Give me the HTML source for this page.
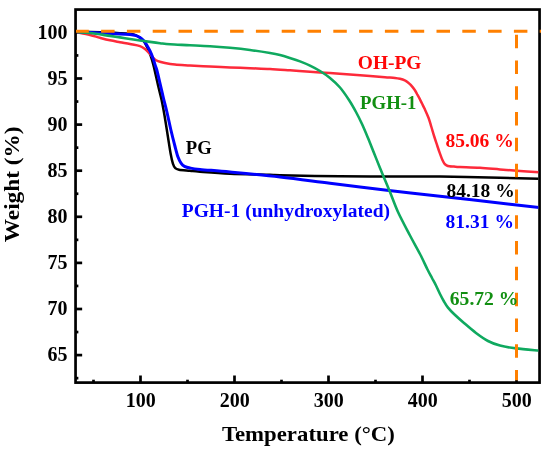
<!DOCTYPE html>
<html><head><meta charset="utf-8"><title>TGA curves</title>
<style>
html,body{margin:0;padding:0;background:#fff;}
svg{display:block;font-family:"Liberation Serif",serif;font-weight:bold;}
.tk text{font-size:20px;fill:#000;}
.ann text{font-size:18.6px;}
</style></head>
<body>
<svg width="550" height="455" viewBox="0 0 550 455">
<rect width="550" height="455" fill="#fff"/>
<g stroke="#000" stroke-width="2.7" fill="none">
<rect x="75.55" y="9.55" width="463.99999999999994" height="373.05"/>
<line x1="75.55" y1="32.40" x2="82.15" y2="32.40"/><line x1="75.55" y1="78.50" x2="82.15" y2="78.50"/><line x1="75.55" y1="124.60" x2="82.15" y2="124.60"/><line x1="75.55" y1="170.70" x2="82.15" y2="170.70"/><line x1="75.55" y1="216.80" x2="82.15" y2="216.80"/><line x1="75.55" y1="262.90" x2="82.15" y2="262.90"/><line x1="75.55" y1="309.00" x2="82.15" y2="309.00"/><line x1="75.55" y1="355.10" x2="82.15" y2="355.10"/><line x1="75.55" y1="55.45" x2="78.35" y2="55.45"/><line x1="75.55" y1="101.55" x2="78.35" y2="101.55"/><line x1="75.55" y1="147.65" x2="78.35" y2="147.65"/><line x1="75.55" y1="193.75" x2="78.35" y2="193.75"/><line x1="75.55" y1="239.85" x2="78.35" y2="239.85"/><line x1="75.55" y1="285.95" x2="78.35" y2="285.95"/><line x1="75.55" y1="332.05" x2="78.35" y2="332.05"/><line x1="75.55" y1="378.15" x2="78.35" y2="378.15"/><line x1="140.50" y1="382.60" x2="140.50" y2="375.50"/><line x1="234.50" y1="382.60" x2="234.50" y2="375.50"/><line x1="328.50" y1="382.60" x2="328.50" y2="375.50"/><line x1="422.50" y1="382.60" x2="422.50" y2="375.50"/><line x1="516.50" y1="382.60" x2="516.50" y2="375.50"/><line x1="93.50" y1="382.60" x2="93.50" y2="379.70"/><line x1="187.50" y1="382.60" x2="187.50" y2="379.70"/><line x1="281.50" y1="382.60" x2="281.50" y2="379.70"/><line x1="375.50" y1="382.60" x2="375.50" y2="379.70"/><line x1="469.50" y1="382.60" x2="469.50" y2="379.70"/>
</g>
<clipPath id="pa"><rect x="76.8" y="11" width="461.5" height="370.4"/></clipPath>
<g fill="none" stroke-linejoin="round" stroke-linecap="butt" clip-path="url(#pa)">
<path d="M76.50 31.70 C80.42 31.80 92.75 32.05 100.00 32.30 C107.25 32.55 115.17 32.95 120.00 33.20 C124.83 33.45 126.50 33.52 129.00 33.80 C131.50 34.08 133.33 34.35 135.00 34.90 C136.67 35.45 137.58 36.08 139.00 37.10 C140.42 38.12 142.25 39.52 143.50 41.00 C144.75 42.48 145.50 44.08 146.50 46.00 C147.50 47.92 148.58 50.17 149.50 52.50 C150.42 54.83 151.27 57.58 152.00 60.00 C152.73 62.42 152.87 62.67 153.90 67.00 C154.93 71.33 156.92 80.50 158.20 86.00 C159.48 91.50 160.53 95.00 161.60 100.00 C162.67 105.00 163.57 110.00 164.60 116.00 C165.63 122.00 166.78 129.67 167.80 136.00 C168.82 142.33 169.85 149.40 170.70 154.00 C171.55 158.60 172.13 161.23 172.90 163.60 C173.67 165.97 174.28 167.18 175.30 168.20 C176.32 169.22 176.55 169.27 179.00 169.70 C181.45 170.13 186.50 170.45 190.00 170.80 C193.50 171.15 193.33 171.32 200.00 171.80 C206.67 172.28 218.33 173.20 230.00 173.70 C241.67 174.20 261.67 174.55 270.00 174.80 C278.33 175.05 268.33 174.95 280.00 175.20 C291.67 175.45 321.83 176.07 340.00 176.30 C358.17 176.53 372.33 176.55 389.00 176.60 C405.67 176.65 421.50 176.40 440.00 176.60 C458.50 176.80 483.42 177.45 500.00 177.80 C516.58 178.15 532.92 178.55 539.50 178.70" stroke="#000" stroke-width="2.5"/>
<path d="M76.50 32.20 C78.75 32.67 86.08 34.07 90.00 35.00 C93.92 35.93 96.67 36.92 100.00 37.80 C103.33 38.68 106.67 39.57 110.00 40.30 C113.33 41.03 116.67 41.58 120.00 42.20 C123.33 42.82 126.67 43.35 130.00 44.00 C133.33 44.65 137.50 45.27 140.00 46.10 C142.50 46.93 143.33 47.68 145.00 49.00 C146.67 50.32 148.50 52.40 150.00 54.00 C151.50 55.60 152.67 57.40 154.00 58.60 C155.33 59.80 156.17 60.47 158.00 61.20 C159.83 61.93 162.17 62.45 165.00 63.00 C167.83 63.55 170.83 64.10 175.00 64.50 C179.17 64.90 184.17 65.07 190.00 65.40 C195.83 65.73 203.33 66.17 210.00 66.50 C216.67 66.83 223.33 67.12 230.00 67.40 C236.67 67.68 243.33 67.93 250.00 68.20 C256.67 68.47 263.33 68.65 270.00 69.00 C276.67 69.35 283.33 69.85 290.00 70.30 C296.67 70.75 303.33 71.23 310.00 71.70 C316.67 72.17 323.33 72.63 330.00 73.10 C336.67 73.57 343.33 74.02 350.00 74.50 C356.67 74.98 364.17 75.55 370.00 76.00 C375.83 76.45 380.83 76.88 385.00 77.20 C389.17 77.52 392.50 77.63 395.00 77.90 C397.50 78.17 398.37 78.38 400.00 78.80 C401.63 79.22 403.47 79.78 404.80 80.40 C406.13 81.02 407.02 81.75 408.00 82.50 C408.98 83.25 409.60 83.68 410.70 84.90 C411.80 86.12 413.55 88.28 414.60 89.80 C415.65 91.32 416.17 92.52 417.00 94.00 C417.83 95.48 418.77 97.12 419.60 98.70 C420.43 100.28 421.18 101.85 422.00 103.50 C422.82 105.15 423.40 106.18 424.50 108.60 C425.60 111.02 427.45 114.93 428.60 118.00 C429.75 121.07 430.43 123.83 431.40 127.00 C432.37 130.17 433.43 133.92 434.40 137.00 C435.37 140.08 436.30 142.80 437.20 145.50 C438.10 148.20 438.97 150.87 439.80 153.20 C440.63 155.53 441.45 157.80 442.20 159.50 C442.95 161.20 443.58 162.43 444.30 163.40 C445.02 164.37 445.63 164.82 446.50 165.30 C447.37 165.78 448.25 166.08 449.50 166.30 C450.75 166.52 452.25 166.48 454.00 166.60 C455.75 166.72 455.67 166.80 460.00 167.00 C464.33 167.20 473.33 167.40 480.00 167.80 C486.67 168.20 493.33 168.88 500.00 169.40 C506.67 169.92 513.42 170.40 520.00 170.90 C526.58 171.40 536.25 172.15 539.50 172.40" stroke="#fd2a3a" stroke-width="2.5"/>
<path d="M76.50 31.80 C80.42 32.00 92.75 32.62 100.00 33.00 C107.25 33.38 115.00 33.85 120.00 34.10 C125.00 34.35 127.33 34.25 130.00 34.50 C132.67 34.75 134.33 35.10 136.00 35.60 C137.67 36.10 138.67 36.60 140.00 37.50 C141.33 38.40 142.83 39.68 144.00 41.00 C145.17 42.32 146.00 43.73 147.00 45.40 C148.00 47.07 149.00 48.87 150.00 51.00 C151.00 53.13 152.17 55.93 153.00 58.20 C153.83 60.47 154.37 62.63 155.00 64.60 C155.63 66.57 156.02 67.10 156.80 70.00 C157.58 72.90 158.62 77.42 159.70 82.00 C160.78 86.58 162.10 92.50 163.30 97.50 C164.50 102.50 165.63 106.58 166.90 112.00 C168.17 117.42 169.57 124.33 170.90 130.00 C172.23 135.67 173.72 141.50 174.90 146.00 C176.08 150.50 176.95 154.10 178.00 157.00 C179.05 159.90 180.12 161.85 181.20 163.40 C182.28 164.95 183.03 165.53 184.50 166.30 C185.97 167.07 187.42 167.48 190.00 168.00 C192.58 168.52 193.33 168.73 200.00 169.40 C206.67 170.07 216.67 170.73 230.00 172.00 C243.33 173.27 263.33 175.13 280.00 177.00 C296.67 178.87 311.83 180.95 330.00 183.20 C348.17 185.45 370.67 188.33 389.00 190.50 C407.33 192.67 419.83 193.92 440.00 196.20 C460.17 198.48 493.42 202.32 510.00 204.20 C526.58 206.08 534.58 206.95 539.50 207.50" stroke="#0000ff" stroke-width="3.0"/>
<path d="M76.50 32.00 C78.75 32.17 84.42 32.35 90.00 33.00 C95.58 33.65 105.00 35.17 110.00 35.90 C115.00 36.63 116.67 36.88 120.00 37.40 C123.33 37.92 126.67 38.48 130.00 39.00 C133.33 39.52 136.67 40.02 140.00 40.50 C143.33 40.98 146.67 41.45 150.00 41.90 C153.33 42.35 156.67 42.80 160.00 43.20 C163.33 43.60 165.00 43.97 170.00 44.30 C175.00 44.63 183.33 44.88 190.00 45.20 C196.67 45.52 203.33 45.77 210.00 46.20 C216.67 46.63 223.33 47.17 230.00 47.80 C236.67 48.43 243.33 49.13 250.00 50.00 C256.67 50.87 265.00 52.17 270.00 53.00 C275.00 53.83 276.67 54.17 280.00 55.00 C283.33 55.83 286.67 56.93 290.00 58.00 C293.33 59.07 296.67 60.13 300.00 61.40 C303.33 62.67 306.67 64.00 310.00 65.60 C313.33 67.20 316.67 68.93 320.00 71.00 C323.33 73.07 326.67 75.25 330.00 78.00 C333.33 80.75 336.83 83.83 340.00 87.50 C343.17 91.17 346.33 95.92 349.00 100.00 C351.67 104.08 353.83 108.00 356.00 112.00 C358.17 116.00 360.00 119.67 362.00 124.00 C364.00 128.33 366.00 133.17 368.00 138.00 C370.00 142.83 372.00 148.00 374.00 153.00 C376.00 158.00 378.17 163.50 380.00 168.00 C381.83 172.50 383.33 176.00 385.00 180.00 C386.67 184.00 387.83 186.67 390.00 192.00 C392.17 197.33 394.67 204.75 398.00 212.00 C401.33 219.25 406.33 228.50 410.00 235.50 C413.67 242.50 417.08 248.33 420.00 254.00 C422.92 259.67 425.50 265.50 427.50 269.50 C429.50 273.50 430.58 275.33 432.00 278.00 C433.42 280.67 434.67 282.83 436.00 285.50 C437.33 288.17 438.67 291.33 440.00 294.00 C441.33 296.67 442.67 299.23 444.00 301.50 C445.33 303.77 446.33 305.52 448.00 307.60 C449.67 309.68 451.33 311.43 454.00 314.00 C456.67 316.57 460.33 319.83 464.00 323.00 C467.67 326.17 472.00 330.00 476.00 333.00 C480.00 336.00 484.00 338.90 488.00 341.00 C492.00 343.10 495.33 344.37 500.00 345.60 C504.67 346.83 509.42 347.57 516.00 348.40 C522.58 349.23 535.58 350.23 539.50 350.60" stroke="#0fa95f" stroke-width="2.6"/>
</g>
<g stroke="#ff8000" stroke-width="3" fill="none" stroke-dasharray="13.5 12.3">
<line x1="76" y1="31.3" x2="541" y2="31.3" stroke-dashoffset="0.7"/>
<line x1="516.5" y1="34.65" x2="516.5" y2="380.2"/>
</g>
<g class="tk">
<text x="67.6" y="38.70" text-anchor="end">100</text><text x="67.6" y="84.80" text-anchor="end">95</text><text x="67.6" y="130.90" text-anchor="end">90</text><text x="67.6" y="177.00" text-anchor="end">85</text><text x="67.6" y="223.10" text-anchor="end">80</text><text x="67.6" y="269.20" text-anchor="end">75</text><text x="67.6" y="315.30" text-anchor="end">70</text><text x="67.6" y="361.40" text-anchor="end">65</text><text x="140.80" y="406.7" text-anchor="middle">100</text><text x="234.80" y="406.7" text-anchor="middle">200</text><text x="328.80" y="406.7" text-anchor="middle">300</text><text x="422.80" y="406.7" text-anchor="middle">400</text><text x="516.80" y="406.7" text-anchor="middle">500</text>
</g>
<g class="ann">
<text x="185.8" y="153.7" fill="#000" textLength="25.9" lengthAdjust="spacingAndGlyphs">PG</text>
<text x="357.8" y="68.5" fill="#ff0808" textLength="63.7" lengthAdjust="spacingAndGlyphs">OH-PG</text>
<text x="360.1" y="108.6" fill="#128f12" textLength="56.4" lengthAdjust="spacingAndGlyphs">PGH-1</text>
<text x="181.8" y="216.7" fill="#0000ff" textLength="208.2" lengthAdjust="spacingAndGlyphs">PGH-1 (unhydroxylated)</text>
<text x="445.4" y="146.5" fill="#ff0808" textLength="68.3" lengthAdjust="spacingAndGlyphs">85.06 %</text>
<text x="446.4" y="196.5" fill="#000" textLength="68.3" lengthAdjust="spacingAndGlyphs">84.18 %</text>
<text x="445.6" y="228.4" fill="#0000ff" textLength="68.3" lengthAdjust="spacingAndGlyphs">81.31 %</text>
<text x="449.8" y="304.5" fill="#128f12" textLength="68.6" lengthAdjust="spacingAndGlyphs">65.72 %</text>
</g>
<text x="221.9" y="441" font-size="22px" fill="#000" textLength="173" lengthAdjust="spacingAndGlyphs">Temperature (°C)</text>
<text transform="translate(18.6 242.2) rotate(-90)" font-size="22px" fill="#000" textLength="115.8" lengthAdjust="spacingAndGlyphs">Weight (%)</text>
</svg>
</body></html>
